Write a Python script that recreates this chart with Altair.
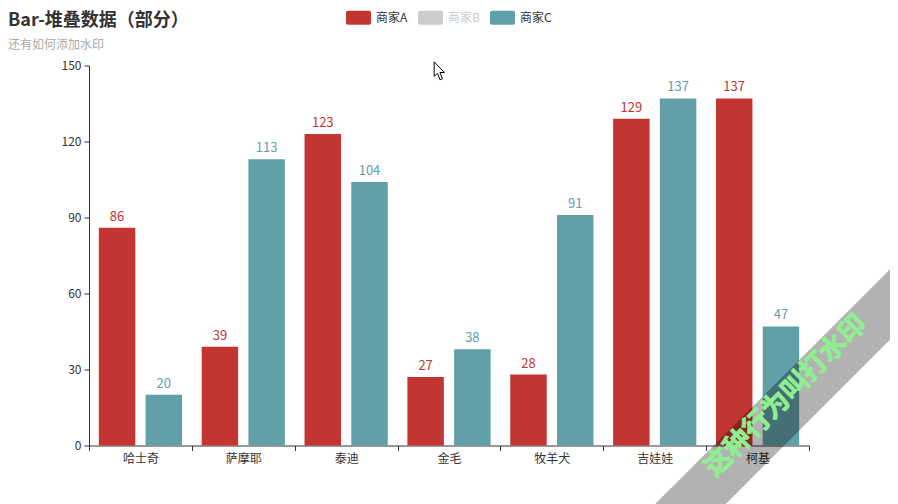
import altair as alt
import pandas as pd

categories = ["哈士奇", "萨摩耶", "泰迪", "金毛", "牧羊犬", "吉娃娃", "柯基"]
series_a = [86, 39, 123, 27, 28, 129, 137]
series_c = [20, 113, 104, 38, 91, 137, 47]
legend_names = ["商家A", "商家B", "商家C"]
legend_colors = ["#c23531", "#cccccc", "#61a0a8"]
y_ticks = [0, 30, 60, 90, 120, 150]
title_text = "Bar-堆叠数据（部分）"
subtitle_text = "还有如何添加水印"
watermark_text = "这种行为叫打水印"

FONT = "Noto Sans CJK SC"
rows = [{"品种": c, "商家": "商家A", "值": v} for c, v in zip(categories, series_a)]
rows += [{"品种": c, "商家": "商家C", "值": v} for c, v in zip(categories, series_c)]
df = pd.DataFrame(rows)
one = pd.DataFrame({"n": [0]})

rounded = ("M-0.84,-0.56 L0.84,-0.56 Q1,-0.56 1,-0.4 L1,0.4 Q1,0.56 0.84,0.56 "
           "L-0.84,0.56 Q-1,0.56 -1,0.4 L-1,-0.4 Q-1,-0.56 -0.84,-0.56 Z")
cursor = "M-0.5,-1 L-0.5,0.5 L-0.15,0.2 L0.1,0.85 L0.35,0.75 L0.1,0.1 L0.55,0.1 Z"

x = alt.X("品种:N", sort=categories, title=None,
          scale=alt.Scale(paddingInner=0, paddingOuter=0),
          axis=alt.Axis(labelAngle=0, tickBand="extent", tickSize=5, labelPadding=3,
                        labelFontSize=12, labelColor="#333", domainColor="#333",
                        tickColor="#333", grid=False))
y = alt.Y("值:Q", title=None,
          scale=alt.Scale(domain=[0, 150], nice=False),
          axis=alt.Axis(values=y_ticks, tickSize=5, labelPadding=3, labelFontSize=12,
                        labelColor="#333", domainColor="#333", tickColor="#333", grid=False))
x_off = alt.XOffset("商家:N", scale=alt.Scale(domain=["商家A", "商家C"], paddingInner=0.22, paddingOuter=0.21))
color = alt.Color("商家:N",
                  scale=alt.Scale(domain=legend_names, range=legend_colors),
                  legend=alt.Legend(title=None, orient="none", legendX=257, legendY=-60.5,
                                    columns=3, columnPadding=10, symbolType=rounded,
                                    symbolSize=625, symbolStrokeWidth=0, symbolOpacity=1,
                                    labelOffset=5, labelFontSize=12,
                                    labelColor=alt.expr("datum.label == '商家B' ? '#cccccc' : '#333333'")))

bars = alt.Chart(df).mark_bar(opacity=1).encode(x=x, y=y, xOffset=x_off, color=color)
labels = alt.Chart(df).mark_text(dy=-11, fontSize=13, font=FONT).encode(
    x=x, y=y, xOffset=x_off, text="值:Q",
    color=alt.Color("商家:N", scale=alt.Scale(domain=legend_names, range=legend_colors), legend=None))
band = alt.Chart(one).mark_rule(color="#000000", opacity=0.3, strokeWidth=50).encode(
    x=alt.value(560), x2=alt.value(840), y=alt.value(480), y2=alt.value(200))
wm = alt.Chart(one).mark_text(text=watermark_text, angle=315, fontSize=27, fontWeight="bold",
                              color="#90ee90", stroke="#90ee90", strokeWidth=0.8, font=FONT,
                              align="center", baseline="middle").encode(
    x=alt.value(697), y=alt.value(330.5))
cur = alt.Chart(one).mark_point(shape=cursor, size=376, filled=True, fill="#ffffff",
                                stroke="#000000", strokeWidth=1, opacity=1).encode(
    x=alt.value(350), y=alt.value(6))

chart = alt.layer(bars, labels, band, wm, cur).properties(
    width=720, height=380,
    padding={"left": 81, "top": 57.5, "right": 81, "bottom": 58.5},
    autosize=alt.AutoSizeParams(type="none"),
    title=alt.TitleParams(text=title_text, subtitle=subtitle_text, anchor="start", frame="group",
                          dx=-81, fontSize=18, fontWeight="bold", color="#333333", font=FONT,
                          subtitleColor="#aaaaaa", subtitleFontSize=12, subtitleFont=FONT,
                          subtitlePadding=10, offset=-45.5),
).configure(font=FONT).configure_view(stroke=None)

chart.save("out.html", embed_options={"renderer": "svg", "actions": False})
